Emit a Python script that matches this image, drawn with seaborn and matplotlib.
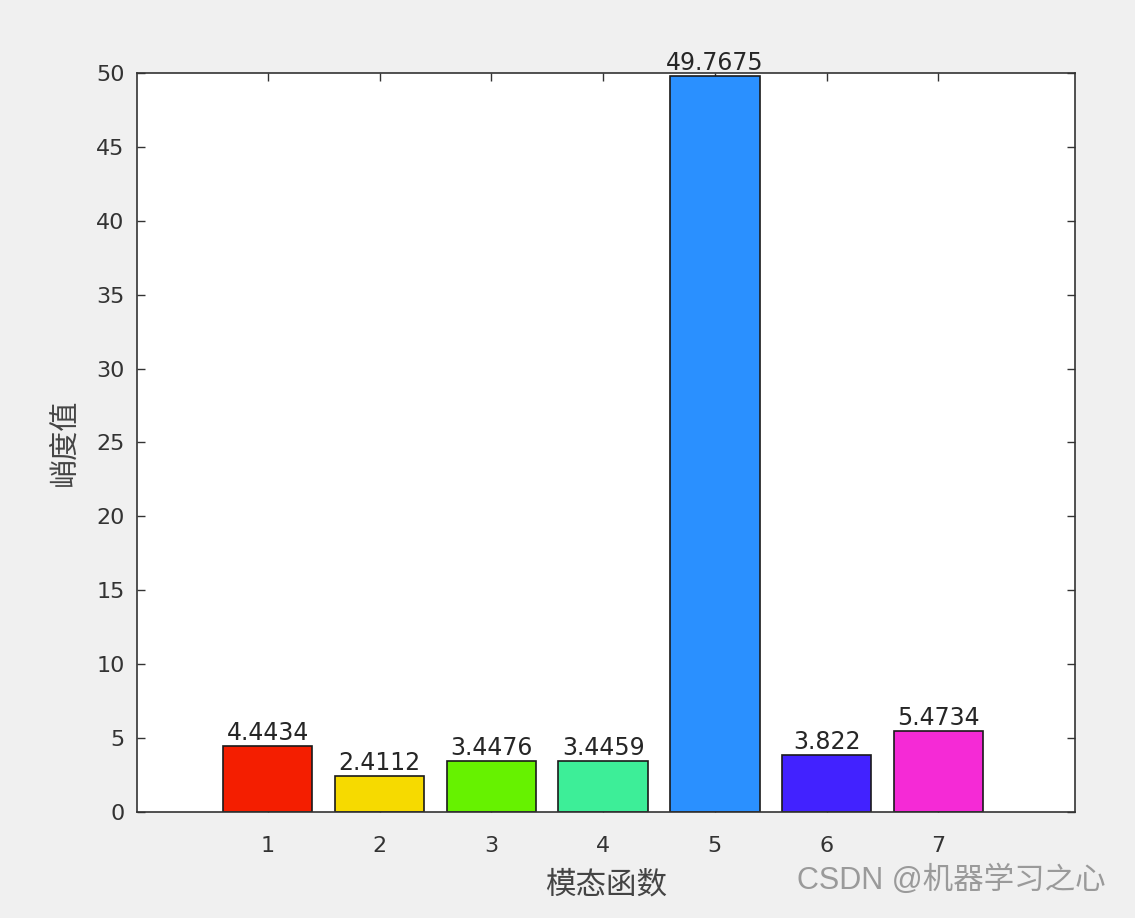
import matplotlib
matplotlib.use("Agg")
import matplotlib.pyplot as plt
import seaborn as sns
import pandas as pd

# data
modes = [1, 2, 3, 4, 5, 6, 7]
kurtosis = [4.4434, 2.4112, 3.4476, 3.4459, 49.7675, 3.822, 5.4734]
value_labels = ["4.4434", "2.4112", "3.4476", "3.4459", "49.7675", "3.822", "5.4734"]
bar_colors = ["#F41E00", "#F6DA00", "#66F200", "#3DEE98", "#2A90FF", "#4222FF", "#F52AD6"]

sns.set_style("ticks")
plt.rcParams['font.family'] = ['DejaVu Sans', 'Noto Sans CJK SC']
cjk = ['Noto Sans CJK SC', 'DejaVu Sans']

df = pd.DataFrame({"mode": modes, "value": kurtosis})

fig = plt.figure(figsize=(11.35, 9.18), dpi=100, facecolor="#F0F0F0")
ax = fig.add_axes([0.1207, 0.1155, 0.8263, 0.805])
ax.set_facecolor("white")

sns.barplot(data=df, x="mode", y="value", hue="mode", palette=bar_colors,
            native_scale=True, width=0.8, legend=False, ax=ax,
            edgecolor="#1a1a1a", linewidth=1.2, saturation=1)

for p, lab in zip(ax.patches, value_labels):
    ax.annotate(lab, (p.get_x() + p.get_width() / 2, p.get_height()),
                xytext=(0, 1), textcoords="offset points",
                ha="center", va="bottom", fontsize=17, color="#262626")

ax.set_xlim(-0.17, 8.22)
ax.set_ylim(0, 50)
ax.set_xticks(modes)
ax.set_yticks(range(0, 51, 5))
ax.tick_params(direction="in", length=6, width=1, labelsize=16,
               colors="#333333", top=True, right=True)
ax.tick_params(axis="y", pad=9)
ax.tick_params(axis="x", pad=17)
for s in ax.spines.values():
    s.set_visible(True)
    s.set_color("#333333")
    s.set_linewidth(1.2)

ax.set_xlabel("模态函数", fontsize=22, color="#444444", family=cjk, labelpad=10)
ax.set_ylabel("峭度值", fontsize=21, color="#444444", family=cjk, labelpad=12)

fig.text(0.974, 0.041, "CSDN @机器学习之心", ha="right", va="center",
         fontsize=22, color="#9A9A9A",
         family=['Liberation Sans', 'Noto Sans CJK SC', 'DejaVu Sans'])

fig.savefig("out.png", dpi=100, facecolor=fig.get_facecolor())
